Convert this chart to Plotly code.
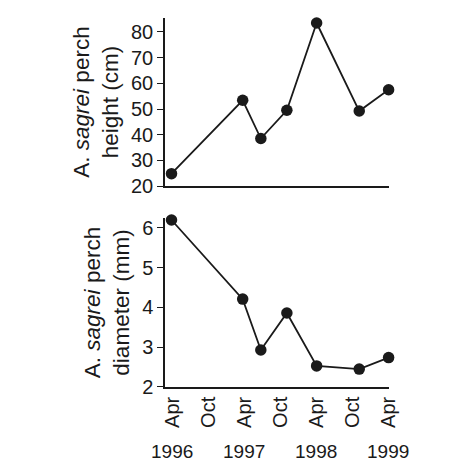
import plotly.graph_objects as go
from plotly.subplots import make_subplots

dates = ["1996-03-29", "1997-03-25", "1997-06-25", "1997-11-04",
         "1998-04-04", "1998-11-06", "1999-04-04"]
height_cm = [24.8, 53.4, 38.5, 49.5, 83.5, 49.2, 57.5]
diameter_mm = [6.2, 4.21, 2.93, 3.86, 2.53, 2.45, 2.74]

tick_dates = ["1996-04-01", "1996-10-01", "1997-04-01", "1997-10-01",
              "1998-04-01", "1998-10-01", "1999-04-01"]
tick_text = ["Apr", "Oct", "Apr", "Oct", "Apr", "Oct", "Apr"]
year_labels = ["1996", "1997", "1998", "1999"]
year_pos = ["1996-04-01", "1997-04-01", "1998-04-01", "1999-04-01"]

FONT = "Liberation Sans, Arial, sans-serif"
INK = "#1a1a1a"

fig = make_subplots(rows=2, cols=1, shared_xaxes=False, vertical_spacing=0.05)

common = dict(mode="lines+markers", line=dict(color=INK, width=1.8),
              marker=dict(color=INK, size=11.5), cliponaxis=False, showlegend=False)
fig.add_trace(go.Scatter(x=dates, y=height_cm, **common), row=1, col=1)
fig.add_trace(go.Scatter(x=dates, y=diameter_mm, **common), row=2, col=1)

xr = ["1996-02-25", "1999-04-06"]
xcommon = dict(type="date", range=xr, showline=True, linecolor=INK, linewidth=1.5,
               showgrid=False, zeroline=False, ticks="",
               tickvals=tick_dates, ticktext=tick_text,
               tickfont=dict(size=20, color=INK, family=FONT))
fig.update_xaxes(**xcommon, showticklabels=False, row=1, col=1)
fig.update_xaxes(**xcommon, showticklabels=True, tickangle=-90, row=2, col=1)

ycommon = dict(showline=True, linecolor=INK, linewidth=1.5, showgrid=False,
               zeroline=False, ticks="outside", ticklen=6, tickcolor=INK,
               tickwidth=1.2, tickfont=dict(size=20, color=INK, family=FONT))
tfont = dict(size=22.5, color=INK, family=FONT)
fig.update_yaxes(**ycommon, range=[20, 85.45], tickvals=[20, 30, 40, 50, 60, 70, 80],
                 domain=[0.5447, 1.0],
                 title=dict(text="A. <i>sagrei</i> perch<br>height (cm)", standoff=6,
                            font=tfont),
                 row=1, col=1)
fig.update_yaxes(**ycommon, range=[2, 6.25], tickvals=[2, 3, 4, 5, 6],
                 domain=[0.0, 0.458],
                 title=dict(text="A. <i>sagrei</i> perch<br>diameter (mm)", standoff=6,
                            font=tfont),
                 row=2, col=1)

for yl, yp in zip(year_labels, year_pos):
    fig.add_annotation(x=yp, y=-0.176, xref="x2", yref="paper", text=yl,
                       showarrow=False, xanchor="center", yanchor="middle",
                       font=dict(size=19, color=INK, family=FONT))

fig.update_layout(
    width=474, height=474,
    margin=dict(l=165, r=85, t=18, b=87),
    plot_bgcolor="white", paper_bgcolor="white",
    font=dict(family=FONT, size=19, color=INK),
)

fig.write_html("out.html")
